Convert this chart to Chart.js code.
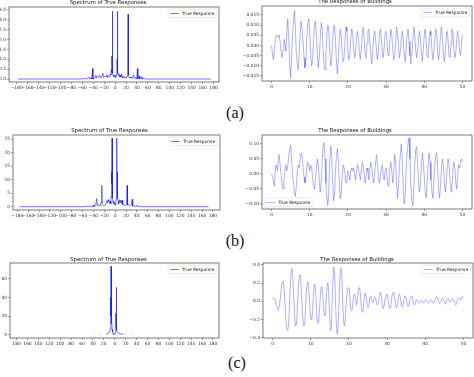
<!DOCTYPE html>
<html>
<head>
<meta charset="utf-8">
<script src="https://cdn.jsdelivr.net/npm/chart.js@4.4.1/dist/chart.umd.min.js"></script>
<style>
  html, body { margin:0; padding:0; background:#fff; }
  #fig { position:relative; width:474px; height:377px; overflow:hidden; }
  #fig canvas { position:absolute; }
  .cap { position:absolute; width:40px; text-align:center; font-family:"Liberation Serif", serif; font-size:16px; color:#111; line-height:16px; }
</style>
</head>
<body>
<div id="fig">
  <div class="cap" style="left:215px; top:105px;">(a)</div>
  <div class="cap" style="left:215px; top:233px;">(b)</div>
  <div class="cap" style="left:217px; top:355px;">(c)</div>
</div>
<script>
// spectrum (a): frequency / amplitude
var specAX = [-178,-62,-55,-52,-48,-47,-44,-43,-41,-40.5,-37,-35,-34,-32,-30,-28,-27,-24,-22.5,-21,-19,-17,-15,-14,-12,-10,-8.5,-7.5,-6.8,-6.5,-6.2,-5.8,-5.4,-5.1,-4.8,-4.5,-4.2,-3.5,-2.5,-1.5,-0.5,0.5,1.5,2.5,3.2,3.6,3.9,4.2,4.5,4.8,5.2,6,7,8,9,10.5,12,13,15,16.5,18,20,22,23.3,23.8,24.3,25.5,27,29,30.5,32,34,35,38,39.5,41,41.7,44,45,48,49,53,55,175]
var specAY = [0,0,0.03,0,0.1,0,0.06,0,0.53,0,0.05,0.2,0.05,0.12,0.1,0.18,0.05,0.12,0.3,0.08,0.15,0.1,0.22,0.06,0.18,0.1,0.25,0.2,0.5,1.1,0.3,1.15,0.6,3.43,0.9,1.0,0.3,0.15,0.2,0.1,0.2,0.08,0.2,0.15,0.4,1.0,0.4,3.43,0.5,0.95,0.3,0.2,0.28,0.1,0.2,0.1,0.25,0.05,0.15,0.05,0.12,0.05,0.15,0.3,3.28,0.2,0.1,0.05,0.12,0.02,0.1,0.2,0.02,0.08,0,0.53,0,0.15,0.02,0.1,0,0.04,0,0]

// spectrum (b)
var specBX = [-176,-60,-45,-42,-40,-39,-36,-34,-33,-30,-28,-25.5,-24.5,-23.8,-22,-20,-17,-15,-14,-12.5,-11.5,-10,-9,-8,-7.2,-6.9,-6.6,-6.3,-6,-5.7,-5.4,-5.1,-4.8,-4.5,-3.5,-2.5,-1.5,-0.5,0.5,1.5,2.3,2.6,2.9,3.2,3.5,3.8,4.1,4.4,4.7,5.5,6.5,8,9,10.5,11.5,13,14,16,18,21,22,22.8,25,27,30,31.5,32.3,35,38,40,41,45,47,172]
var specBY = [0,0,0.2,0,0.6,0,0.5,3.0,0.3,0.8,0.3,1.5,7.9,0.8,0.5,0.3,1.0,2.3,1.5,2.6,1.8,1.2,2.0,1.0,3.8,13,3.5,12.8,8.7,25.4,9,12.5,3.8,3.2,1.2,2.2,0.8,1.5,0.6,1.5,3.8,12.8,8.8,25.4,9,13,3.5,12.5,3.0,2.0,1.0,2.6,1.5,2.5,1.2,2.4,0.8,1.0,0.3,1.0,7.9,0.6,0.8,0.3,0.8,2.8,0.2,0.3,0.1,0.6,0,0.15,0,0]

// spectrum (c), null = gap
var specCX = [-37,-36,-32,-28,-27,-22,-16,-13,-11,-9.5,-8.5,-7.8,-7.4,-7.1,-6.9,-6.6,-6.3,-6,-5.5,-5,-4,-3,-2,-1,0,1,1.6,2.0,2.3,2.6,2.9,3.2,3.6,4.5,6,8,10,13,16,18,20,21,26,31,32]
var specCY = [1,1,null,1,1,null,0.8,1.2,1.8,3,6,15,40,20,73.6,30,50,12,22,6,3,1.5,0.5,0.2,1.0,2.5,6,23,10,51,15,21,5,3,2,1.2,0.9,0.7,0.6,null,1,1,null,1,1]

// building responses, one sample every 0.25 s from 0 to 50 s
var dt = 0.25
var respA = [0,-0.004,-0.007,-0.002, 0.003,0.005,0.005,0.004, 0.005,0.002,-0.003,-0.006, -0.002,0.003,0.001,-0.003,
  0.006,0.013,0.004,-0.009, -0.016,-0.006,0.005,0.012, 0.017,0.008,-0.004,-0.009, -0.012,-0.003,0.006,0.012,
  0.008,0.002,-0.006,-0.011, -0.007,0.004,0.011,0.013, 0.006,-0.004,-0.010,-0.008, 0.002,0.010,0.012,0.005,
  -0.005,-0.011,-0.006,0.003, 0.011,0.009,-0.002,-0.009, -0.012,-0.004,0.006,0.010, 0.007,-0.003,-0.010,-0.007,
  0.003,0.009,0.010,0.002, -0.008,-0.014,-0.006,0.004, 0.008,0.005,-0.004,-0.008, -0.006,0.002,0.009,0.007,
  -0.002,-0.007,-0.005,0.003, 0.008,0.006,-0.001,-0.006, -0.004,0.004,0.007,0.003, -0.003,-0.007,-0.002,0.005,
  0.009,0.004,-0.004,-0.006, 0.001,0.007,0.008,0.002, -0.005,-0.009,-0.003,0.004, 0.007,0.003,-0.003,-0.007,
  -0.002,0.005,0.008,0.004, -0.003,-0.006,-0.001,0.006, 0.007,0.002,-0.005,-0.004, 0.003,0.008,0.005,-0.002,
  -0.007,-0.005,0.002,0.009, 0.006,-0.001,-0.006,-0.003, 0.004,0.007,0.003,-0.004, -0.008,-0.002,0.005,0.008,
  0.002,-0.005,-0.009,-0.004, 0.003,0.009,0.006,-0.002, -0.006,-0.003,0.004,0.007, 0.003,-0.004,-0.008,-0.002,
  0.005,0.008,0.002,-0.005, -0.006,0.001,0.007,0.005, -0.002,-0.007,-0.004,0.003, 0.008,0.006,-0.003,-0.007,
  -0.002,0.005,0.009,0.003, -0.004,-0.008,-0.003,0.004, 0.007,0.002,-0.005,-0.006, 0.001,0.008,0.006,-0.001,
  -0.006,-0.004,0.003,0.007, 0.004,-0.003,-0.005,0.001, 0.005]
var respB = [0.00,-0.01,-0.02,-0.04, 0.02,0.03,0.01,0.04, 0.065,0.03,0.00,-0.03, -0.05,-0.02,0.01,0.03,
  0.01,0.03,0.06,0.08, 0.095,0.05,0.00,-0.03, -0.06,-0.075,-0.04,0.01, 0.03,0.02,0.05,0.07,
  0.06,0.02,-0.01,-0.03, -0.01,0.02,0.04,0.03, 0.01,0.03,0.02,-0.01, -0.04,-0.05,-0.02,0.02,
  0.05,0.03,-0.02,-0.06, -0.03,0.04,0.09,0.105, 0.05,-0.03,-0.08,-0.105, -0.05,0.04,0.093,0.06,
  -0.02,-0.09,-0.07,0.01, 0.06,0.085,0.05,-0.03, -0.083,-0.06,-0.01,0.03, 0.02,0.00,-0.03,-0.01,
  0.01,0.00,-0.02,0.01, 0.02,0.01,0.02,0.00, -0.02,0.01,0.03,0.02, 0.00,-0.02,0.01,0.04,
  0.03,0.00,-0.03,-0.01, 0.02,0.01,-0.02,0.02, 0.04,0.02,-0.01,-0.03, 0.00,0.04,0.063,0.03,
  -0.01,-0.03,-0.01,0.02, 0.03,0.00,-0.02,0.01, 0.02,-0.01,-0.04,-0.02, 0.02,0.04,0.01,-0.03,
  0.00,0.065,0.04,-0.03, -0.08,-0.04,0.03,0.07, 0.10,0.04,-0.05,-0.10, -0.07,0.01,0.07,0.10,
  0.12,0.05,-0.04,-0.09, -0.105,-0.05,0.03,0.08, 0.09,0.04,-0.03,-0.06, -0.03,0.03,0.07,0.04,
  -0.01,-0.06,-0.08,-0.03, 0.03,0.07,0.04,-0.02, -0.06,-0.08,-0.03,0.03, 0.06,0.07,0.02,-0.05,
  -0.08,-0.04,0.02,0.05, 0.03,-0.02,-0.06,-0.03, 0.02,0.05,0.03,-0.02, -0.06,-0.04,0.01,0.04,
  0.02,-0.03,-0.05,-0.01, 0.03,0.02,0.04,0.05, 0.04]
var respC = [0.02,0.03,0.03,0.01, -0.03,-0.07,-0.10,-0.06, 0.02,0.12,0.20,0.22, 0.15,0.00,-0.18,-0.30,
  -0.32,-0.20,0.02,0.24, 0.36,0.30,0.10,-0.12, -0.27,-0.25,-0.08,0.14, 0.27,0.29,0.15,-0.06,
  -0.22,-0.27,-0.18,0.02, 0.17,0.21,0.12,-0.05, -0.18,-0.20,-0.08,0.10, 0.19,0.12,-0.08,-0.22,
  -0.24,-0.12,0.05,0.16, 0.14,0.00,-0.14,-0.16, -0.02,0.15,0.20,0.05, -0.20,-0.32,-0.15,0.15,
  0.375,0.30,0.00,-0.28, -0.36,-0.20,0.10,0.33, 0.36,0.15,-0.12,-0.27, -0.22,-0.05,0.08,0.14,
  0.15,0.05,-0.08,-0.10, -0.03,0.06,0.08,0.03, -0.04,0.02,0.12,0.15, 0.08,-0.05,-0.12,-0.08,
  0.03,0.09,0.05,-0.03, -0.07,-0.03,0.04,0.06, 0.02,-0.02,0.01,0.05, 0.03,-0.02,-0.04,0.00,
  0.06,0.10,0.05,-0.04, -0.08,-0.04,0.03,0.07, 0.08,0.02,-0.05,-0.08, -0.04,0.04,0.09,0.10,
  0.04,-0.04,-0.07,-0.02, 0.05,0.08,0.03,-0.04, -0.06,-0.02,0.03,0.06, 0.03,-0.03,-0.06,-0.03,
  0.02,0.05,0.06,0.02, -0.03,-0.04,0.00,0.02, 0.01,-0.01,-0.02,0.00, 0.01,0.00,-0.02,-0.01,
  0.01,0.02,0.00,-0.02, -0.01,0.01,0.02,0.00, -0.02,-0.01,0.01,0.03, 0.05,0.03,0.00,-0.02,
  -0.01,0.02,0.04,0.02, -0.01,-0.03,-0.01,0.02, 0.03,0.01,-0.01,0.00, 0.02,0.03,0.01,-0.02,
  -0.04,-0.02,0.02,0.04, 0.03,0.02,0.04,0.05, 0.04]

var specTitle = 'Spectrum of True Responses'
var respTitle = 'The Responses of Buildings'
var seriesName = 'True Response'

var FONT = 'DejaVu Sans'
var specColor = 'rgba(0,0,255,0.9)'
var respColor = 'rgba(50,50,255,0.55)'

function minus(s){ return s.replace('-', '\u2212') }

var frame = {
  id: 'frame',
  afterDraw: function(c){
    var a = c.chartArea, x = c.ctx
    x.save()
    x.strokeStyle = '#444'
    x.lineWidth = 0.7
    x.strokeRect(a.left, a.top, a.right - a.left, a.bottom - a.top)
    x.restore()
  }
}

var boxLegend = {
  id: 'boxLegend',
  afterDraw: function(c, args, o){
    var ds = c.data.datasets[0], x = c.ctx, a = c.chartArea
    x.save()
    x.font = '4.4px "' + FONT + '"'
    var tw = x.measureText(ds.label).width
    var w = tw + 17, h = 8.6
    var bx = o.corner == 'll' ? a.left + 2.2 : a.right - 2.2 - w
    var by = o.corner == 'll' ? a.bottom - 2.2 - h : a.top + 2.2
    x.fillStyle = 'rgba(255,255,255,0.85)'
    x.strokeStyle = '#d8d8d8'
    x.lineWidth = 0.5
    x.beginPath(); x.roundRect(bx, by, w, h, 1.5); x.fill(); x.stroke()
    x.strokeStyle = ds.borderColor
    x.lineWidth = ds.borderWidth
    x.beginPath(); x.moveTo(bx + 2, by + h/2); x.lineTo(bx + 10.8, by + h/2); x.stroke()
    x.fillStyle = '#222'
    x.textBaseline = 'middle'
    x.fillText(ds.label, bx + 14.3, by + h/2 + 0.2)
    x.restore()
  }
}

function axisBase(){
  return {
    type: 'linear',
    border: { display: false },
    grid: { display: true, drawOnChartArea: false, drawTicks: true, tickLength: 2, color: '#444', lineWidth: 0.5 },
    ticks: { includeBounds: false, autoSkip: false, maxRotation: 0, minRotation: 0, padding: 1,
             font: { family: FONT, size: 4.4 }, color: '#333' }
  }
}

function panel(p){
  var pb = p.th - 5.4 * 1.2
  var pw = p.x1 - p.x0, ph = p.y1 - p.y0
  var cv = document.createElement('canvas')
  cv.width = pw + p.yw + 6
  cv.height = p.th + ph + 11
  cv.style.left = (p.x0 - p.yw) + 'px'
  cv.style.top = (p.y0 - p.th) + 'px'
  document.getElementById('fig').appendChild(cv)

  var xs = axisBase(), ys = axisBase()
  xs.min = p.xr[0]; xs.max = p.xr[1]; xs.ticks.stepSize = p.xstep; xs.ticks.callback = p.xfmt
  xs.afterFit = function(s){ s.height = 11 }
  ys.min = p.yr[0]; ys.max = p.yr[1]; ys.ticks.stepSize = p.ystep; ys.ticks.callback = p.yfmt
  ys.afterFit = function(s){ s.width = p.yw }

  new Chart(cv, {
    type: 'line',
    data: { datasets: [{
      label: seriesName,
      data: p.data,
      borderColor: p.color,
      borderWidth: p.lw,
      pointRadius: 0,
      tension: p.tension || 0,
      spanGaps: false
    }] },
    options: {
      responsive: false,
      animation: false,
      devicePixelRatio: 1,
      layout: { padding: { left: 0, top: 0, bottom: 0, right: 6 } },
      scales: { x: xs, y: ys },
      plugins: {
        legend: { display: false },
        tooltip: { enabled: false },
        title: { display: true, text: p.title, color: '#111',
                 font: { family: FONT, size: 5.4, weight: 'normal' },
                 padding: { top: 0, bottom: pb } },
        boxLegend: { corner: p.corner }
      }
    },
    plugins: [frame, boxLegend]
  })
}

function pairs(xs, ys){ return xs.map(function(x, i){ return { x: x, y: ys[i] } }) }
function timed(vals){ return vals.map(function(v, i){ return { x: i * dt, y: v } }) }

var fmtSigned = function(v){ return minus(String(v)) }
var fmtAbs = function(v){ return String(Math.abs(v)) }
function fixed(n){ return function(v){ if (Math.abs(v) < 1e-9) v = 0; return minus(v.toFixed(n)) } }

// (a)
panel({ x0: 9, y0: 7, x1: 219, y1: 82, th: 8, yw: 12, title: specTitle,
  xr: [-194, 190], xstep: 20, xfmt: fmtSigned, yr: [-0.15, 3.65], ystep: 0.5, yfmt: fixed(1),
  data: pairs(specAX, specAY), color: specColor, lw: 0.6, corner: 'ur' })
panel({ x0: 262, y0: 6, x1: 472, y1: 81, th: 8, yw: 24, title: respTitle,
  xr: [-2.5, 52.5], xstep: 10, xfmt: fmtSigned, yr: [-0.0175, 0.0194], ystep: 0.005, yfmt: fixed(3),
  data: timed(respA), color: respColor, lw: 0.7, corner: 'ur' })
// (b)
panel({ x0: 13, y0: 135, x1: 220, y1: 210, th: 8, yw: 14, title: specTitle,
  xr: [-188, 193], xstep: 20, xfmt: fmtSigned, yr: [-1.22, 26.6], ystep: 5, yfmt: fmtSigned,
  data: pairs(specBX, specBY), color: specColor, lw: 0.6, corner: 'ur' })
panel({ x0: 262, y0: 135, x1: 472, y1: 209, th: 8, yw: 24, title: respTitle,
  xr: [-2.5, 52.5], xstep: 10, xfmt: fmtSigned, yr: [-0.117, 0.13], ystep: 0.05, yfmt: fixed(2),
  data: timed(respB), color: respColor, lw: 0.7, corner: 'll' })
// (c)
panel({ x0: 10, y0: 263, x1: 219, y1: 338, th: 7, yw: 12, title: specTitle,
  xr: [-192, 191], xstep: 20, xfmt: fmtAbs, yr: [-3.5, 77.1], ystep: 20, yfmt: fmtSigned,
  data: pairs(specCX, specCY), color: specColor, lw: 0.6, corner: 'ur' })
panel({ x0: 263, y0: 263, x1: 473, y1: 338, th: 7, yw: 22, title: respTitle,
  xr: [-2.5, 52.5], xstep: 10, xfmt: fmtSigned, yr: [-0.402, 0.42], ystep: 0.2, yfmt: fixed(1),
  data: timed(respC), color: respColor, lw: 0.7, tension: 0.35, corner: 'ur' })
</script>
</body>
</html>
